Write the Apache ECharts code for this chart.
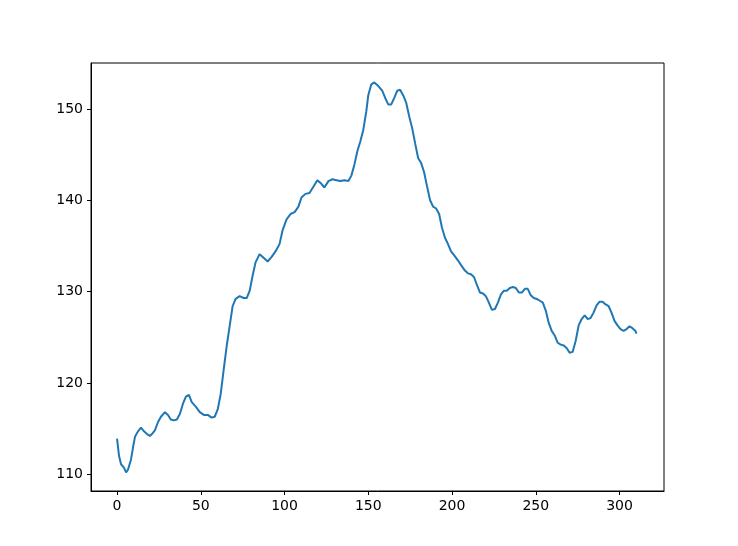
<!DOCTYPE html>
<html>
<head>
<meta charset="utf-8">
<script src="https://cdn.jsdelivr.net/npm/echarts@6/dist/echarts.min.js"></script>
<style>
html,body{margin:0;padding:0;background:#fff;}
#chart{width:738px;height:546px;}
</style>
</head>
<body>
<div id="chart"></div>
<script>
var xs = [0,1.2,2.4,4.2,5.4,6.5,8.3,9.5,10.7,12.5,14.3,16.1,17.9,19.6,20.8,22.6,24.4,26.2,28.6,30.4,
32.1,33.9,35.7,37.5,39.3,41.1,42.9,44.6,47.0,49.4,51.8,54.2,56.5,58.3,60.1,61.9,63.7,65.5,67.3,69.0,
70.8,73.2,75.6,77.4,79.2,81.0,82.7,85.1,87.5,89.9,92.3,94.6,97.0,98.8,101.2,103.6,106.0,108.3,110.1,112.5,
114.9,117.3,119.6,122.0,123.8,126.2,128.6,131.0,133.3,135.7,138.1,139.9,141.7,143.5,145.2,147.0,148.8,150.0,151.8,153.6,
156.0,158.3,160.1,161.9,163.7,165.5,167.3,169.0,170.8,172.6,174.4,176.2,178.0,179.8,181.5,183.3,185.1,186.9,188.7,190.5,
192.3,194.0,195.8,197.6,199.4,201.2,203.6,205.4,207.7,209.5,211.3,213.1,214.9,216.7,218.5,220.2,222.0,223.8,225.6,227.4,
229.2,231.0,232.7,234.5,236.3,238.1,239.9,241.7,243.5,245.2,247.0,248.8,250.6,252.4,254.2,256.0,257.7,259.5,261.3,263.1,
264.9,266.7,268.5,270.2,272.0,273.8,275.6,277.4,279.2,281.0,282.7,284.5,286.3,288.1,289.9,291.7,293.5,295.2,297.0,298.8,
300.6,302.4,304.2,306.0,307.7,309.5,310.1];
// values at those positions
var ys = [113.9,112.0,111.1,110.7,110.2,110.5,111.6,112.9,114.1,114.7,115.1,114.7,114.4,114.2,114.4,114.8,115.7,116.3,116.8,116.5,
116.0,115.9,116.0,116.6,117.7,118.5,118.7,117.9,117.4,116.8,116.5,116.5,116.2,116.3,117.1,118.8,121.5,124.1,126.3,128.4,
129.2,129.5,129.3,129.3,130.1,131.8,133.2,134.1,133.7,133.3,133.8,134.4,135.2,136.7,137.9,138.5,138.7,139.3,140.3,140.7,
140.8,141.5,142.2,141.8,141.4,142.1,142.3,142.2,142.1,142.2,142.1,142.7,143.9,145.4,146.4,147.7,149.7,151.5,152.7,152.9,
152.5,152.0,151.2,150.5,150.5,151.2,152.0,152.1,151.5,150.7,149.2,147.9,146.2,144.6,144.1,143.1,141.5,140.0,139.3,139.1,
138.5,137.0,135.9,135.2,134.4,134.0,133.4,132.9,132.3,132.0,131.9,131.6,130.7,129.9,129.8,129.5,128.8,128.0,128.1,128.8,
129.7,130.1,130.1,130.4,130.5,130.4,129.9,129.9,130.3,130.3,129.6,129.3,129.2,129.0,128.8,127.9,126.6,125.7,125.2,124.4,
124.2,124.1,123.8,123.3,123.4,124.6,126.3,127.0,127.4,127.0,127.1,127.7,128.5,128.9,128.9,128.6,128.4,127.7,126.8,126.3,
125.9,125.7,125.9,126.2,126.0,125.7,125.4];
var xTicks = [0,50,100,150,200,250,300];
var yTicks = [110,120,130,140,150];

var data = xs.map(function(x,i){return [x, ys[i]];});
var chart = echarts.init(document.getElementById('chart'));
var labelStyle = {color:'#000', fontFamily:'DejaVu Sans', fontSize:14};
chart.setOption({
  animation:false,
  backgroundColor:'#fff',
  grid:{left:91, right:74, top:63, bottom:55, show:true, borderColor:'#000', borderWidth:1},
  xAxis:{type:'value', min:-15.55, max:326.55,
    axisLine:{show:true, onZero:false, lineStyle:{color:'#000', width:1}},
    axisTick:{show:true, customValues:xTicks, length:4, lineStyle:{color:'#000'}},
    axisLabel:Object.assign({customValues:xTicks, margin:8}, labelStyle),
    splitLine:{show:false}},
  yAxis:{type:'value', min:108.17, max:155.03,
    axisLine:{show:true, onZero:false, lineStyle:{color:'#000', width:1}},
    axisTick:{show:true, customValues:yTicks, length:4, lineStyle:{color:'#000'}},
    axisLabel:Object.assign({customValues:yTicks, margin:8}, labelStyle),
    splitLine:{show:false}},
  series:[{type:'line', data:data, showSymbol:false, smooth:false,
    lineStyle:{color:'#1f77b4', width:2}}]
});
</script>
</body>
</html>
